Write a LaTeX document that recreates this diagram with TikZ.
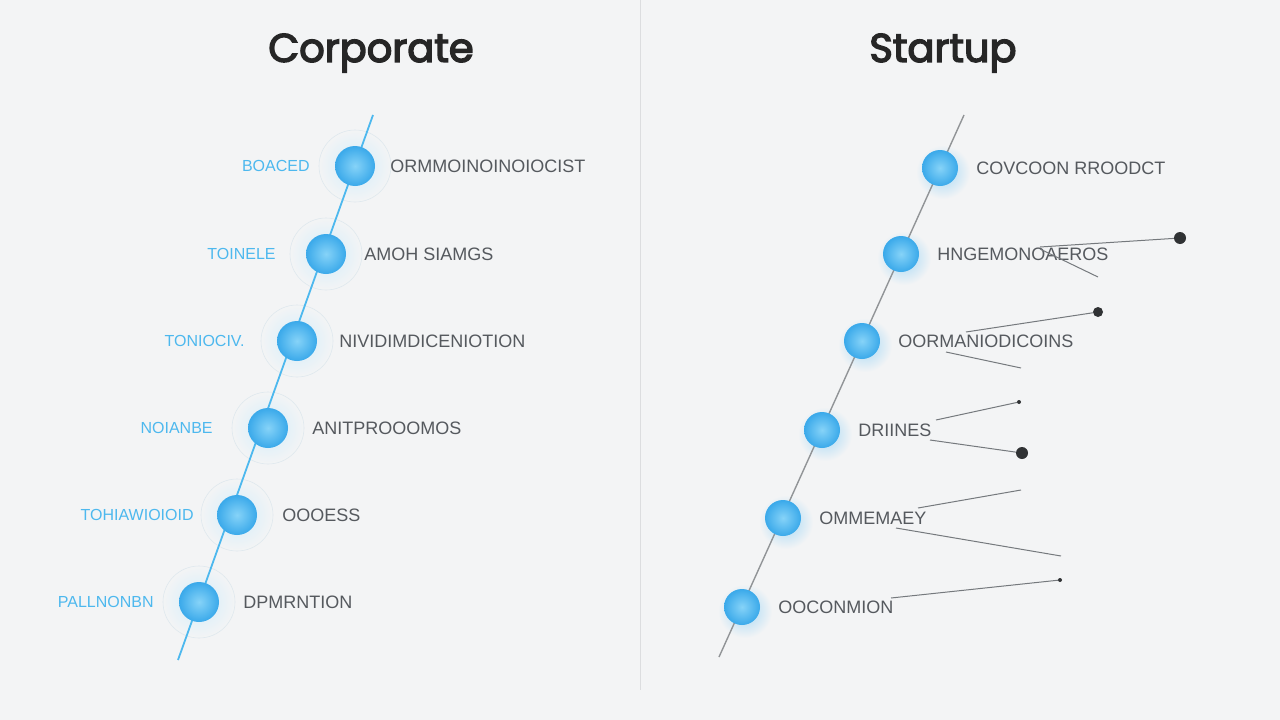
\documentclass[tikz,border=0pt]{standalone}
\usepackage{fontspec}
\setmainfont{Liberation Sans}
\newfontfamily\titlefont{Poppins}[FakeBold=3.5]
\usetikzlibrary{positioning}
\definecolor{bgcol}{HTML}{F3F4F5}
\definecolor{ballblue}{HTML}{3AA9EA}
\definecolor{lightball}{HTML}{86D3F8}
\definecolor{corpblue}{HTML}{4DB8EE}
\definecolor{haloring}{HTML}{DFE8EE}
\definecolor{lblgray}{HTML}{55595E}
\definecolor{linegray}{HTML}{75797D}
\definecolor{dotcol}{HTML}{303234}
\definecolor{divgray}{HTML}{DCDDDF}
\definecolor{titlecol}{HTML}{262626}

\begin{document}
\begin{tikzpicture}[x=1pt, y=-1pt, inner sep=0pt, node distance=18pt,
  corpball/.style={circle, minimum size=40pt, inner color=lightball, outer color=ballblue},
  startball/.style={circle, minimum size=36pt, inner color=lightball, outer color=ballblue},
  halo/.style={circle, minimum size=72pt, inner color=corpblue!25, outer color=bgcol, draw=haloring, line width=0.6pt},
  glow/.style={circle, minimum size=54pt, inner color=ballblue!45, outer color=bgcol},
  corplabel/.style={text=corpblue, font=\fontsize{16}{18}\selectfont},
  tasklabel/.style={text=lblgray, font=\fontsize{18}{20}\selectfont},
  headline/.style={text=titlecol, font=\titlefont\fontsize{40}{46}\selectfont},
  corpline/.style={draw=corpblue, line width=1.8pt},
  startline/.style={draw=linegray!80, line width=1.4pt},
  branch/.style={draw=linegray, line width=1pt},
  bigdot/.style={circle, fill=dotcol, minimum size=12pt},
  middot/.style={circle, fill=dotcol, minimum size=10pt},
  smalldot/.style={circle, fill=dotcol, minimum size=4pt}]

   \fill[bgcol] (0,0) rectangle (1280,720);
   \useasboundingbox (0,0) rectangle (1280,720);
   \draw[divgray, line width=1pt] (640,0) -- (640,690);

   \node[headline] (corp) at (371,53) {Corporate};
   \node[headline] (start) at (943,53) {Startup};

   \node[halo] (h1) at (355,166) {};
   \node[halo] (h2) at (326,254) {};
   \node[halo] (h3) at (297,341) {};
   \node[halo] (h4) at (268,428) {};
   \node[halo] (h5) at (237,515) {};
   \node[halo] (h6) at (199,602) {};

   \coordinate (ltop) at (373,115);
   \coordinate (lbot) at (178,660);
   \draw[corpline] (ltop) -- (lbot);

   \node[corpball] (k1) at (h1) {};
   \node[corpball] (k2) at (h2) {};
   \node[corpball] (k3) at (h3) {};
   \node[corpball] (k4) at (h4) {};
   \node[corpball] (k5) at (h5) {};
   \node[corpball] (k6) at (h6) {};

   \node[corplabel] (kl1) [left=25pt of k1] {BOACED};
   \node[corplabel] (kl2) [left=30pt of k2] {TOINELE};
   \node[corplabel] (kl3) [left=32pt of k3] {TONIOCIV.};
   \node[corplabel] (kl4) [left=35pt of k4] {NOIANBE};
   \node[corplabel] (kl5) [left=23pt of k5] {TOHIAWIOIOID};
   \node[corplabel] (kl6) [left=25pt of k6] {PALLNONBN};

   \node[tasklabel] (kr1) [right=15pt of k1] {ORMMOINOINOIOCIST};
   \node[tasklabel] (kr2) [right=18pt of k2] {AMOH SIAMGS};
   \node[tasklabel] (kr3) [right=22pt of k3] {NIVIDIMDICENIOTION};
   \node[tasklabel] (kr4) [right=24pt of k4] {ANITPROOOMOS};
   \node[tasklabel] (kr5) [right=25pt of k5] {OOOESS};
   \node[tasklabel] (kr6) [right=24pt of k6] {DPMRNTION};

   \node[glow, xshift=3pt, yshift=-4pt] (g1) at (940,168) {};
   \node[glow, xshift=3pt, yshift=-4pt] (g2) at (901,254) {};
   \node[glow, xshift=3pt, yshift=-4pt] (g3) at (862,341) {};
   \node[glow, xshift=3pt, yshift=-4pt] (g4) at (822,430) {};
   \node[glow, xshift=3pt, yshift=-4pt] (g5) at (783,518) {};
   \node[glow, xshift=3pt, yshift=-4pt] (g6) at (742,607) {};

   \coordinate (stop) at (964,115);
   \coordinate (sbot) at (719,657);
   \draw[startline] (stop) -- (sbot);

   \node[startball] (s1) at (940,168) {};
   \node[startball] (s2) at (901,254) {};
   \node[startball] (s3) at (862,341) {};
   \node[startball] (s4) at (822,430) {};
   \node[startball] (s5) at (783,518) {};
   \node[startball] (s6) at (742,607) {};

   \node[tasklabel] (sl1) [right=of s1] {COVCOON RROODCT};
   \node[tasklabel] (sl2) [right=of s2] {HNGEMONOAEROS};
   \node[tasklabel] (sl3) [right=of s3] {OORMANIODICOINS};
   \node[tasklabel] (sl4) [right=of s4] {DRIINES};
   \node[tasklabel] (sl5) [right=of s5] {OMMEMAEY};
   \node[tasklabel] (sl6) [right=of s6] {OOCONMION};

   \coordinate (a1) at (1040,247);
   \coordinate (a2) at (1040,249);
   \coordinate (a3) at (966,332);
   \coordinate (a4) at (946,352);
   \coordinate (a5) at (936,420);
   \coordinate (a6) at (930,440);
   \coordinate (a7) at (918,508);
   \coordinate (a8) at (896,528);
   \coordinate (a9) at (891,598);
   \coordinate (z2) at (1098,277);
   \coordinate (z4) at (1021,368);
   \coordinate (z7) at (1021,490);
   \coordinate (z8) at (1061,556);

   \node[bigdot] (d1) at (1180,238) {};
   \node[middot] (d3) at (1098,312) {};
   \node[smalldot] (d5) at (1019,402) {};
   \node[bigdot] (d6) at (1022,453) {};
   \node[smalldot] (d9) at (1060,580) {};

   \path[branch]
    (a1) edge (d1)
    (a2) edge (z2)
    (a3) edge (d3)
    (a4) edge (z4)
    (a5) edge (d5)
    (a6) edge (d6)
    (a7) edge (z7)
    (a8) edge (z8)
    (a9) edge (d9);
\end{tikzpicture}
\end{document}
